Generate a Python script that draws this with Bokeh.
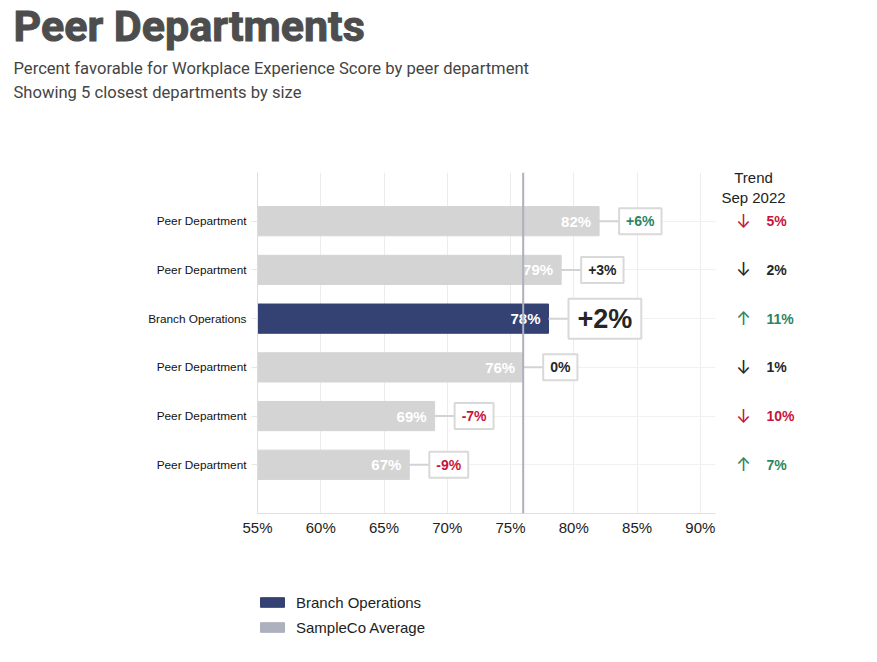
from bokeh.plotting import figure
from bokeh.layouts import column, row
from bokeh.models import (Range1d, FixedTicker, PrintfTickFormatter, Span, Label,
                          Legend, LegendItem)
from bokeh.core.properties import value
from bokeh.embed import file_html
from bokeh.resources import INLINE

# ---------------- data ----------------
title = "Peer Departments"
subtitles = ["Percent favorable for Workplace Experience Score by peer department",
             "Showing 5 closest departments by size"]
departments = ["Peer Department", "Peer Department", "Branch Operations",
               "Peer Department", "Peer Department", "Peer Department"]
scores = [82, 79, 78, 76, 69, 67]
vs_average = [6, 3, 2, 0, -7, -9]
trend_sep_2022 = [-5, -2, 11, -1, -10, 7]
company_average = 76
focus_department = "Branch Operations"
x_ticks = [55, 60, 65, 70, 75, 80, 85, 90]
trend_header = ["Trend", "Sep 2022"]
legend_labels = ["Branch Operations", "SampleCo Average"]

# ---------------- style ----------------
NAVY = "#334272"
PEER = "#d4d4d4"
AVG = "#adb0bd"
GREEN = "#2e8462"
RED = "#c8143c"
DARK = "#262626"
FONT = "Liberation Sans"
W = 861


def tone(v):
    if v >= 5:
        return GREEN
    if v <= -5:
        return RED
    return DARK


def bare(fig):
    fig.outline_line_color = None
    fig.grid.visible = False
    return fig


n = len(departments)
ys = [n - i for i in range(n)]
X0, X1 = 55, 91.2
FRAME_W = 458
px = FRAME_W / (X1 - X0)
GAP_PX = 20

# ---------------- header ----------------
HEAD_H = 150
head = bare(figure(width=W, height=HEAD_H, x_range=Range1d(0, W), y_range=Range1d(HEAD_H, 0),
                   x_axis_type=None, y_axis_type=None, output_backend="svg",
                   toolbar_location=None, min_border=0))
head.text(x=[13], y=[25], text=[title], text_align="left", text_baseline="middle",
          text_font=value("Roboto"), text_font_style="bold", text_font_size="43px",
          text_color="#4d4d4d", text_outline_color="#4d4d4d")
head.text(x=[13] * len(subtitles), y=[68 + 24 * k for k in range(len(subtitles))],
          text=subtitles, text_align="left", text_baseline="middle",
          text_font=value("Roboto"), text_font_size="16.6px", text_color="#444444")

# ---------------- main chart ----------------
MAIN_W = 718
MAIN_H = 410
yr = Range1d(0, n + 1)
p = figure(width=MAIN_W, height=MAIN_H, x_range=Range1d(X0, X1), y_range=yr,
           output_backend="svg", toolbar_location=None,
           min_border_left=257, min_border_right=MAIN_W - 257 - FRAME_W,
           min_border_top=22, min_border_bottom=47, outline_line_color=None)

peer_idx = [i for i in range(n) if departments[i] != focus_department]
foc_idx = [i for i in range(n) if departments[i] == focus_department]
p.hbar(y=[ys[i] for i in peer_idx], right=[scores[i] for i in peer_idx], left=X0,
       height=0.6, color=PEER)
p.hbar(y=[ys[i] for i in foc_idx], right=[scores[i] for i in foc_idx], left=X0,
       height=0.6, color=NAVY)

p.text(x=scores, y=ys, text=[f"{s}%" for s in scores], x_offset=-8,
       text_align="right", text_baseline="middle", text_color="white",
       text_font_style="bold", text_font_size="15px", text_font=value(FONT))

p.segment(x0=scores, y0=ys, x1=[s + (GAP_PX + 2) / px for s in scores], y1=ys,
          line_color="#d3d3d3", line_width=2)

p.add_layout(Span(location=company_average, dimension="height", line_color=AVG,
                  line_width=2))

for i in range(n):
    d = vs_average[i]
    big = departments[i] == focus_department
    txt = "0%" if d == 0 else f"{d:+d}%"
    ph, pv = (9, 5) if big else (7, 5)
    p.add_layout(Label(x=scores[i], y=ys[i], x_offset=GAP_PX, text=txt,
                       text_align="left", text_baseline="middle",
                       text_font=FONT, text_font_style="bold",
                       text_font_size="27px" if big else "14px",
                       text_color=tone(d), background_fill_color="white",
                       border_line_color="#d9d9d9", border_line_width=2,
                       padding=(ph, pv)))

p.xaxis.ticker = FixedTicker(ticks=x_ticks)
p.xaxis.formatter = PrintfTickFormatter(format="%d%%")
p.xaxis.major_label_text_font_size = "15px"
p.xaxis.major_label_text_font = FONT
p.xaxis.major_label_text_color = "#222222"
p.xaxis.axis_line_color = "#e0e0e0"
p.xaxis.major_tick_line_color = None
p.xaxis.minor_tick_line_color = None
p.xaxis.major_tick_out = 0
p.xaxis.major_tick_in = 0
p.xaxis.major_label_standoff = 5

p.yaxis.ticker = FixedTicker(ticks=ys)
p.yaxis.major_label_overrides = {y: d for y, d in zip(ys, departments)}
p.yaxis.major_label_text_font_size = "11.8px"
p.yaxis.major_label_text_font = FONT
p.yaxis.major_label_text_color = "#111111"
p.yaxis.axis_line_color = "#dcdcdc"
p.yaxis.major_tick_line_color = "#e8e8e8"
p.yaxis.major_tick_out = 6
p.yaxis.major_tick_in = 0
p.yaxis.minor_tick_line_color = None
p.yaxis.major_label_standoff = 5

p.xgrid.grid_line_color = "#ececec"
p.ygrid.ticker = FixedTicker(ticks=ys)
p.ygrid.grid_line_color = "#f1f1f1"

# ---------------- trend column ----------------
TR_W = W - MAIN_W
TX = 715 - MAIN_W  # shift so positions match page pixels of the frame edge
tr = bare(figure(width=TR_W, height=MAIN_H, x_range=Range1d(0, TR_W), y_range=yr,
                 x_axis_type=None, y_axis_type=None, output_backend="svg",
                 toolbar_location=None, min_border_left=0, min_border_right=0,
                 min_border_top=22, min_border_bottom=47))
tr.text(x=[28 + TX] * n, y=ys,
        text=["\u2191" if t > 0 else "\u2193" for t in trend_sep_2022],
        text_align="center", text_baseline="middle", text_font=value("Inter"),
        text_font_size="18px", text_color=[tone(t) for t in trend_sep_2022])
tr.text(x=[51 + TX] * n, y=ys, text=[f"{abs(t)}%" for t in trend_sep_2022],
        text_align="left", text_baseline="middle", text_font=value(FONT),
        text_font_style="bold", text_font_size="14px",
        text_color=[tone(t) for t in trend_sep_2022])
for k, h in enumerate(trend_header):
    tr.add_layout(Label(x=38 + TX, y=336 - 20 * k, x_units="screen", y_units="screen",
                        text=h, text_align="center", text_baseline="middle",
                        text_font=FONT, text_font_size="15px", text_color="#222222"))

# ---------------- legend ----------------
LEG_H = 662 - 16 - HEAD_H - MAIN_H
lg = bare(figure(width=W, height=LEG_H, x_range=Range1d(0, 1), y_range=Range1d(0, 1),
                 x_axis_type=None, y_axis_type=None, output_backend="svg",
                 toolbar_location=None, min_border=0))
# legend proxies, kept outside the visible range
r_focus = lg.hbar(y=[-5], right=[1], left=0, height=0.5, color=NAVY)
r_avg = lg.hbar(y=[-5], right=[1], left=0, height=0.5, color=AVG)
legend = Legend(items=[LegendItem(label=legend_labels[0], renderers=[r_focus]),
                       LegendItem(label=legend_labels[1], renderers=[r_avg])],
                location=(257, 9), orientation="vertical", glyph_width=30,
                glyph_height=12, label_standoff=9, label_height=20, spacing=5,
                padding=0, margin=0, border_line_color=None, background_fill_alpha=0,
                label_text_font_size="15px", label_text_font=FONT,
                label_text_color="#222222")
lg.add_layout(legend)

layout = column(head, row(p, tr), lg)
open("out.html", "w").write(file_html(layout, INLINE))
